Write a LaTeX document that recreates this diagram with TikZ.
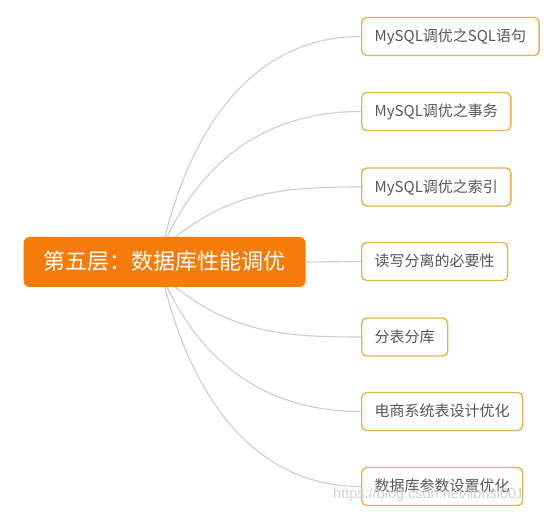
\documentclass[tikz,border=0pt]{standalone}
\usepackage{fontspec}
\newfontfamily\cjk{Noto Sans CJK SC}
\newfontfamily\markfont{Liberation Sans}
\usepackage{xcolor}
\definecolor{mind-orange}{HTML}{F57B0A}
\definecolor{mind-gold}{HTML}{E9B14E}
\definecolor{mind-text}{HTML}{575757}
\definecolor{mind-line}{HTML}{CBCED2}
\definecolor{mind-mark}{HTML}{D2D2D2}
\usepackage{tikz}

\tikzset{
  mainbox/.style={fill=mind-orange, rounded corners=6pt, text=white,
    font=\cjk\fontsize{22}{26}\selectfont, inner xsep=20pt, inner ysep=0pt,
    text height=19pt, text depth=4pt, minimum height=50pt},
  topicbox/.style={draw=mind-gold, fill=white, line width=1.4pt, rounded corners=5pt,
    text=mind-text, font=\cjk\fontsize{15}{18}\selectfont, inner xsep=13pt, inner ysep=0pt,
    text height=13pt, text depth=2.5pt, minimum height=38pt, anchor=west},
  branch/.style={draw=mind-line, line width=1.1pt},
}

\begin{document}
\begin{tikzpicture}[x=1pt, y=-1pt]

    % Background
    \fill[white] (0, 0) rectangle (550, 516);
    \useasboundingbox (0, 0) rectangle (550, 516);

    % Root
    \node[mainbox] (root) at (164.5, 262) {第五层：数据库性能调优};

    % Topics
    \node[topicbox] (sql)    at (361, 36.5)  {MySQL调优之SQL语句};
    \node[topicbox] (trans)  at (361, 111.5) {MySQL调优之事务};
    \node[topicbox] (index)  at (361, 187)   {MySQL调优之索引};
    \node[topicbox] (split)  at (361, 261.5) {读写分离的必要性};
    \node[topicbox] (shard)  at (361, 337)   {分表分库};
    \node[topicbox] (shop)   at (361, 411.5) {电商系统表设计优化};
    \node[topicbox] (param)  at (361, 486.5) {数据库参数设置优化};

    % Branches
    \draw[branch] ([xshift=0.5pt]root.north) to[out=76, in=180] (sql.west);
    \draw[branch] ([xshift=2.5pt]root.north) to[out=64, in=180] (trans.west);
    \draw[branch] ([xshift=11pt]root.north) to[out=38, in=180] (index.west);
    \draw[branch] (root.east) -- (split.west);
    \draw[branch] ([xshift=11pt]root.south) to[out=-38, in=180] (shard.west);
    \draw[branch] ([xshift=2.5pt]root.south) to[out=-64, in=180] (shop.west);
    \draw[branch] ([xshift=0.5pt]root.south) to[out=-76, in=180] (param.west);

    % Watermark
    \node[anchor=base west, inner sep=0pt, text=mind-mark, font=\markfont\fontsize{14.5}{17}\selectfont] (mark) at (333, 498) {https://blog.csdn.net/libusi001};

\end{tikzpicture}
\end{document}
